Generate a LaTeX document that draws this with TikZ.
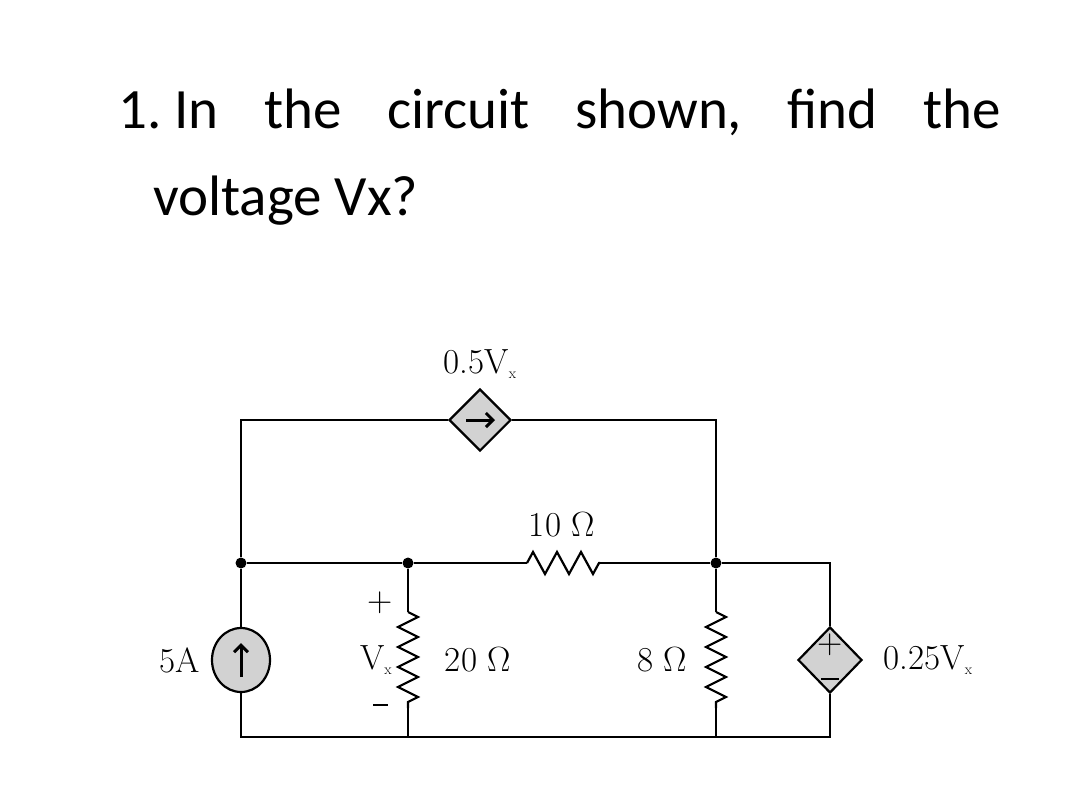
\documentclass[tikz,border=0pt]{standalone}
\usepackage{fontspec}
\setmainfont{Carlito}
\newfontfamily\lmfont{Latin Modern Roman}
\usetikzlibrary{shapes.geometric,decorations.pathmorphing,arrows.meta}
\newcommand{\subx}{\raisebox{-0.35ex}{\fontsize{15}{15}\selectfont x}}
\begin{document}
\begin{tikzpicture}[x=1pt,y=-1pt,
  wire/.style={line width=2.8pt},
  res/.style={line width=2.2pt,decorate,decoration={zigzag,segment length=20pt,amplitude=10pt}},
  dot/.style={circle,fill=black,inner sep=0pt,minimum size=11pt},
  src/.style={draw,line width=2.2pt,fill=gray!35},
  lbl/.style={font=\lmfont\fontsize{35}{38}\selectfont,inner sep=1pt}]
\useasboundingbox (0,0) rectangle (1079,801);
% title
\node[anchor=base west,inner sep=0pt,font=\fontsize{57}{60}\selectfont] (t1) at (118,128)
  {1.\ In\hspace{0.8em}the\hspace{0.8em}circuit\hspace{0.8em}shown,\hspace{0.8em}find\hspace{0.8em}the};
\node[anchor=base west,inner sep=0pt,font=\fontsize{57}{60}\selectfont] (t2) at (153,215) {voltage Vx?};
% nodes
\coordinate (tl) at (241,420);
\coordinate (tr) at (716,420);
\node[dot] (a) at (241,563) {};
\node[dot] (b) at (408,563) {};
\node[dot] (c) at (716,563) {};
\coordinate (cr) at (830,563);
\coordinate (bl) at (241,737);
\coordinate (bb) at (408,737);
\coordinate (bc) at (716,737);
\coordinate (br) at (830,737);
\node[src,diamond,minimum width=62pt,minimum height=62pt,inner sep=0pt] (cccs) at (480,420) {};
\node[src,ellipse,minimum width=58pt,minimum height=64pt,inner sep=0pt] (is) at (241,660) {};
\node[src,diamond,minimum width=64pt,minimum height=66pt,inner sep=0pt] (vs) at (830,660) {};
\coordinate (r1a) at (527,563); \coordinate (r1b) at (600,563);
\coordinate (r2a) at (408,612); \coordinate (r2b) at (408,708);
\coordinate (r3a) at (716,612); \coordinate (r3b) at (716,708);
% wires
\draw[wire] (is.north) -- (a) -- (tl) -- (cccs.west);
\draw[wire] (cccs.east) -- (tr) -- (c);
\draw[wire] (a) -- (b) -- (r1a);
\draw[wire] (r1b) -- (c) -- (cr) -- (vs.north);
\draw[wire] (is.south) -- (bl) -- (br) -- (vs.south);
\draw[wire] (b) -- (r2a); \draw[wire] (r2b) -- (bb);
\draw[wire] (c) -- (r3a); \draw[wire] (r3b) -- (bc);
\draw[res,decoration={segment length=24pt,amplitude=11pt}] (r1a) -- (r1b);
\draw[res] (r2a) -- (r2b);
\draw[res] (r3a) -- (r3b);
% symbols in sources
\draw[line width=3pt,-{Straight Barb[length=7pt,width=14pt]}] ([xshift=-14pt]cccs.center) -- ([xshift=15pt]cccs.center);
\draw[line width=3pt,-{Straight Barb[length=7pt,width=14pt]}] ([yshift=-17pt]is.center) -- ([yshift=17pt]is.center);
\node[lbl] (vp) at (830,645) {+};
\draw[line width=2.5pt] (821,679) -- (839,679);
% labels
\node[lbl] (l1) at (480,364) {0.5V\subx};
\node[lbl] (l2) at (562,525) {10 Ω};
\node[lbl] (l3) at (180,660) {5A};
\node[lbl] (l4) at (376,660) {V\subx};
\node[lbl] (l5) at (380,603) {+};
\draw[line width=2.5pt] (373,705) -- (388,705);
\node[lbl] (l7) at (478,660) {20 Ω};
\node[lbl] (l8) at (662,660) {8 Ω};
\node[lbl] (l9) at (928,660) {0.25V\subx};
\end{tikzpicture}
\end{document}
